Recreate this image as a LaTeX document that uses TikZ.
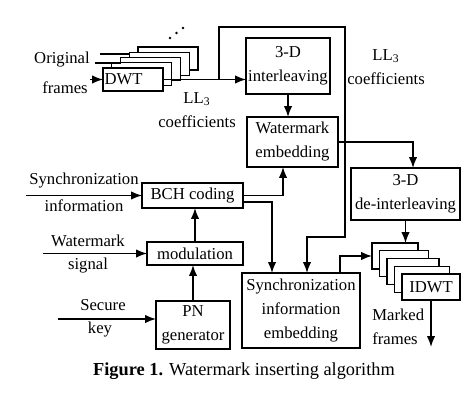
\documentclass[tikz,border=0pt]{standalone}
\usepackage{fontspec}
\setmainfont{Liberation Serif}
\usetikzlibrary{arrows.meta}
\tikzset{
  block/.style={draw,line width=0.85pt,inner sep=1pt,outer sep=0pt,align=center,font=\fontsize{10}{14.4}\selectfont},
  frame/.style={draw,fill=white,line width=0.85pt,inner sep=0pt,outer sep=0pt},
  flow/.style={-{Latex[length=6.5pt,width=5pt]},line width=0.85pt},
  wire/.style={line width=0.85pt},
  lbl/.style={inner sep=0pt,align=center,font=\fontsize{10}{14.4}\selectfont}
}
\begin{document}
\begin{tikzpicture}[x=0.6pt,y=-0.6pt]
    \useasboundingbox (0,0) rectangle (474,402);

    % original frames and DWT
    \foreach \i in {4,3,2,1}
      \node[frame,minimum width=36pt,minimum height=13.8pt] (dwt\i) at ({133+8.75*\i},{79.5-5.25*\i}) {};
    \node[block,fill=white,text width=34pt,minimum height=13.8pt,align=left] (dwt) at (133,79.5) {DWT};
    \foreach \p in {(170,38),(176.5,33),(183,28)}
      \fill \p circle (0.8pt);

    % processing blocks
    \node[block,minimum width=50.4pt,minimum height=33.6pt] (intl) at (288,66) {3-D\\interleaving};
    \node[block,minimum width=54.6pt,minimum height=30pt] (wm) at (292.5,142) {Watermark\\embedding};
    \node[block,minimum width=65.4pt,minimum height=31.2pt] (deint) at (405.5,194) {3-D\\de-interleaving};
    \node[block,minimum width=60.6pt,minimum height=15pt] (bch) at (192.5,195.5) {BCH coding};
    \node[block,minimum width=57.6pt,minimum height=13.8pt] (mod) at (195,253.5) {modulation};
    \node[block,minimum width=44.4pt,minimum height=28.8pt] (pn) at (193,325) {PN\\generator};
    \node[block,minimum width=70.8pt,minimum height=45pt] (sync) at (301,310.5) {Synchronization\\information\\embedding};

    % marked frames and IDWT
    \foreach \i in {4,3,2,1}
      \node[frame,minimum width={(58-3*\i)*0.6pt},minimum height=15.6pt] (idwt\i) at ({431-9*\i},{287-7.75*\i}) {};
    \node[block,fill=white,minimum width=34.8pt,minimum height=15.6pt] (idwt) at (431,287) {IDWT};

    % free ends
    \coordinate (framein) at (90,79.5);
    \coordinate (frame2in) at (95,63);
    \coordinate (frame3in) at (100,54);
    \coordinate (split) at (219,79.5);
    \coordinate (loopne) at (345,27);
    \coordinate (loopse) at (345,237);
    \coordinate (syncin) at (26,195.5);
    \coordinate (wmin) at (43,253.5);
    \coordinate (keyin) at (58,319);
    \coordinate (out) at (431,347);

    % connectors
    \draw[flow] (framein) -- (dwt.west);
    \draw[wire] (frame2in) -- (frame2in -| dwt2.west);
    \draw[wire] (frame3in) -- (frame3in -| dwt3.west);
    \draw[flow] (dwt.east) -- (dwt.east -| intl.west);
    \draw[flow] (split) |- (loopne) -- (loopse) -| ([xshift=3.6pt]sync.north);
    \draw[flow] (intl.south) -- (intl.south |- wm.north);
    \draw[flow] (wm.east) -| ([xshift=4.5pt]deint.north);
    \draw[flow] (deint.south) -- (deint.south |- idwt4.north);
    \draw[flow] ([xshift=23.4pt]sync.north) |- (idwt4.west);
    \draw[flow] (idwt.south) -- (out);
    \draw[flow] (bch.east) -| ([xshift=-5.7pt]wm.south);
    \draw[flow] ([yshift=-3.9pt]bch.east) -| ([xshift=-17.4pt]sync.north);
    \draw[flow] (mod.north) -- (mod.north |- bch.south);
    \draw[flow] (pn.north) -- (pn.north |- mod.south);
    \draw[flow] (syncin) -- (bch.west);
    \draw[flow] (wmin) -- (mod.west);
    \draw[flow] (keyin) -- (keyin -| pn.west);

    % labels
    \node[lbl] (origlbl) at (62,60) {Original};
    \node[lbl] (framelbl) at (65,88) {frames};
    \node[lbl] (ll3a) at (197,110) {LL\textsubscript{3}\\coefficients};
    \node[lbl] (ll3b) at (386,67) {LL\textsubscript{3}\\coefficients};
    \node[lbl] (synclbl) at (84,181) {Synchronization};
    \node[lbl] (infolbl) at (84,206) {information};
    \node[lbl] (wmlbl) at (88,241) {Watermark};
    \node[lbl] (siglbl) at (88,266) {signal};
    \node[lbl] (securelbl) at (103,305) {Secure};
    \node[lbl] (keylbl) at (100,330) {key};
    \node[lbl,anchor=west,align=left] (marked) at (372,327) {Marked\\frames};
    \node[font=\fontsize{11}{13}\selectfont] (caption) at (244,371) {\textbf{Figure 1.} Watermark inserting algorithm};
\end{tikzpicture}
\end{document}
